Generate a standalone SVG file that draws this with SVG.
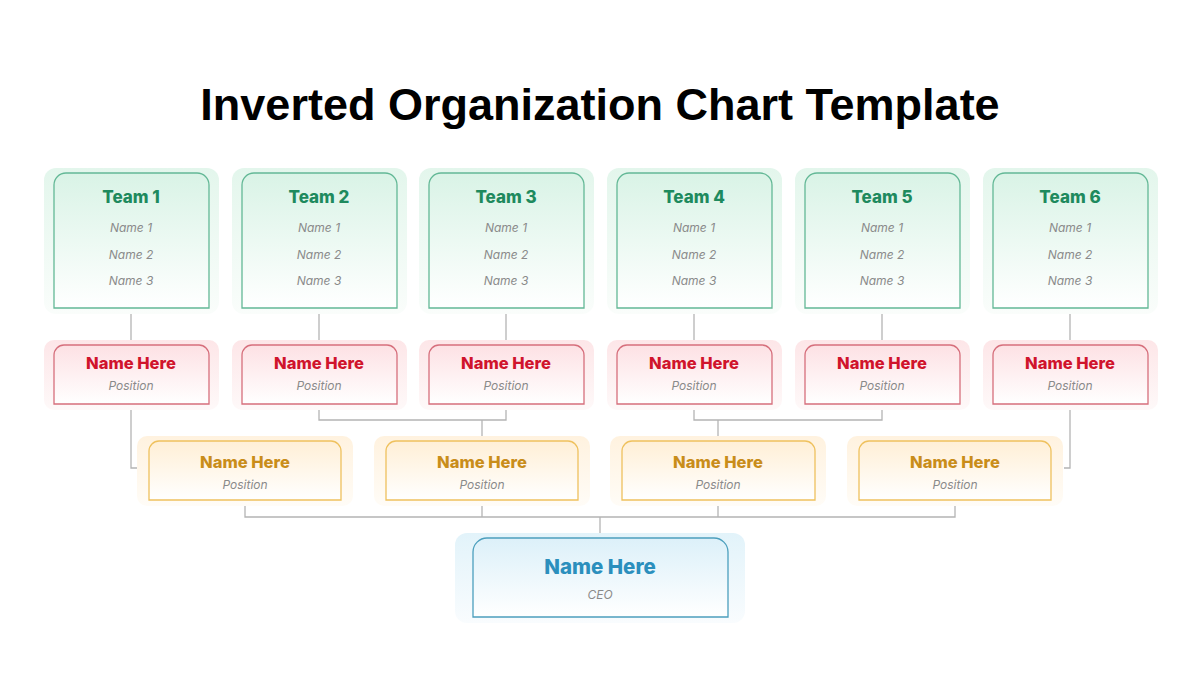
<svg xmlns="http://www.w3.org/2000/svg" width="1200" height="675" viewBox="0 0 1200 675">
<defs>
<linearGradient id="gG" x1="0" y1="0" x2="0" y2="1"><stop offset="0" stop-color="#d9f3e6"/><stop offset="1" stop-color="#ffffff"/></linearGradient>
<linearGradient id="gGh" x1="0" y1="0" x2="0" y2="1"><stop offset="0" stop-color="#e3f6ec"/><stop offset="1" stop-color="#fafdfb"/></linearGradient>
<linearGradient id="gR" x1="0" y1="0" x2="0" y2="1"><stop offset="0" stop-color="#fde1e4"/><stop offset="1" stop-color="#ffffff"/></linearGradient>
<linearGradient id="gRh" x1="0" y1="0" x2="0" y2="1"><stop offset="0" stop-color="#fde6e8"/><stop offset="1" stop-color="#fef9f9"/></linearGradient>
<linearGradient id="gY" x1="0" y1="0" x2="0" y2="1"><stop offset="0" stop-color="#ffefd6"/><stop offset="1" stop-color="#ffffff"/></linearGradient>
<linearGradient id="gYh" x1="0" y1="0" x2="0" y2="1"><stop offset="0" stop-color="#fff2df"/><stop offset="1" stop-color="#fffcf7"/></linearGradient>
<linearGradient id="gB" x1="0" y1="0" x2="0" y2="1"><stop offset="0" stop-color="#dcf0f9"/><stop offset="1" stop-color="#ffffff"/></linearGradient>
<linearGradient id="gBh" x1="0" y1="0" x2="0" y2="1"><stop offset="0" stop-color="#e2f3fa"/><stop offset="1" stop-color="#f9fcfe"/></linearGradient>
</defs>
<style>
.title{font-family:"Liberation Sans",Arial,sans-serif;font-weight:bold;font-size:45px;fill:#000;text-anchor:middle}
.hd{font-family:Inter,"Open Sans",sans-serif;font-weight:800;text-anchor:middle}
.sub{font-family:Inter,"Open Sans",sans-serif;font-style:italic;font-size:12px;fill:#8a8a8a;text-anchor:middle}
.tg{fill:url(#gG);stroke:#63b896;stroke-width:1.3}
.tgh{fill:url(#gGh)}
.rd{fill:url(#gR);stroke:#d66f7c;stroke-width:1.3}
.rdh{fill:url(#gRh)}
.yl{fill:url(#gY);stroke:#efc15e;stroke-width:1.3}
.ylh{fill:url(#gYh)}
.bl{fill:url(#gB);stroke:#4c9fbd;stroke-width:1.3}
.blh{fill:url(#gBh)}
.cn{fill:none;stroke:#b4b4b4;stroke-width:1.3}
.dot{fill:#b0a5aa}
</style>
<rect width="1200" height="675" fill="#ffffff"/>
<text class="title" x="600" y="120">Inverted Organization Chart Template</text>

<g id="connectors">
<path class="cn" d="M131 308V345M319 308V345M506 308V345M694 308V345M882 308V345M1070 308V345"/>
<path class="cn" d="M131 404V468H137"/>
<path class="cn" d="M1070 404V468H1064"/>
<path class="cn" d="M319 404V420H506V404M482 420V441"/>
<path class="cn" d="M694 404V420H882V404M718 420V441"/>
<path class="cn" d="M245 500V517H955V500M482 500V517M718 500V517M600 517V538"/>
<g class="dot">
<circle cx="131" cy="309" r="2.6"/><circle cx="319" cy="309" r="2.6"/><circle cx="506" cy="309" r="2.6"/><circle cx="694" cy="309" r="2.6"/><circle cx="882" cy="309" r="2.6"/><circle cx="1070" cy="309" r="2.6"/>
<circle cx="131" cy="405" r="2.6"/><circle cx="319" cy="405" r="2.6"/><circle cx="506" cy="405" r="2.6"/><circle cx="694" cy="405" r="2.6"/><circle cx="882" cy="405" r="2.6"/><circle cx="1070" cy="405" r="2.6"/>
<circle cx="245" cy="501" r="2.6"/><circle cx="482" cy="501" r="2.6"/><circle cx="718" cy="501" r="2.6"/><circle cx="955" cy="501" r="2.6"/>
</g>
</g>

<g id="team1">
<rect class="tgh" x="44" y="168" width="175" height="146" rx="12"/>
<path class="tg" d="M54 308V185A12 12 0 0 1 66 173H197A12 12 0 0 1 209 185V308Z"/>
<text class="hd" x="131" y="203" font-size="17" fill="#1e8a5e">Team 1</text>
<text class="sub" x="131" y="232">Name 1</text><text class="sub" x="131" y="259">Name 2</text><text class="sub" x="131" y="285">Name 3</text>
</g>
<g id="team2">
<rect class="tgh" x="232" y="168" width="175" height="146" rx="12"/>
<path class="tg" d="M242 308V185A12 12 0 0 1 254 173H385A12 12 0 0 1 397 185V308Z"/>
<text class="hd" x="319" y="203" font-size="17" fill="#1e8a5e">Team 2</text>
<text class="sub" x="319" y="232">Name 1</text><text class="sub" x="319" y="259">Name 2</text><text class="sub" x="319" y="285">Name 3</text>
</g>
<g id="team3">
<rect class="tgh" x="419" y="168" width="175" height="146" rx="12"/>
<path class="tg" d="M429 308V185A12 12 0 0 1 441 173H572A12 12 0 0 1 584 185V308Z"/>
<text class="hd" x="506" y="203" font-size="17" fill="#1e8a5e">Team 3</text>
<text class="sub" x="506" y="232">Name 1</text><text class="sub" x="506" y="259">Name 2</text><text class="sub" x="506" y="285">Name 3</text>
</g>
<g id="team4">
<rect class="tgh" x="607" y="168" width="175" height="146" rx="12"/>
<path class="tg" d="M617 308V185A12 12 0 0 1 629 173H760A12 12 0 0 1 772 185V308Z"/>
<text class="hd" x="694" y="203" font-size="17" fill="#1e8a5e">Team 4</text>
<text class="sub" x="694" y="232">Name 1</text><text class="sub" x="694" y="259">Name 2</text><text class="sub" x="694" y="285">Name 3</text>
</g>
<g id="team5">
<rect class="tgh" x="795" y="168" width="175" height="146" rx="12"/>
<path class="tg" d="M805 308V185A12 12 0 0 1 817 173H948A12 12 0 0 1 960 185V308Z"/>
<text class="hd" x="882" y="203" font-size="17" fill="#1e8a5e">Team 5</text>
<text class="sub" x="882" y="232">Name 1</text><text class="sub" x="882" y="259">Name 2</text><text class="sub" x="882" y="285">Name 3</text>
</g>
<g id="team6">
<rect class="tgh" x="983" y="168" width="175" height="146" rx="12"/>
<path class="tg" d="M993 308V185A12 12 0 0 1 1005 173H1136A12 12 0 0 1 1148 185V308Z"/>
<text class="hd" x="1070" y="203" font-size="17" fill="#1e8a5e">Team 6</text>
<text class="sub" x="1070" y="232">Name 1</text><text class="sub" x="1070" y="259">Name 2</text><text class="sub" x="1070" y="285">Name 3</text>
</g>

<g id="lead1">
<rect class="rdh" x="44" y="340" width="175" height="70" rx="10"/>
<path class="rd" d="M54 404V355A10 10 0 0 1 64 345H199A10 10 0 0 1 209 355V404Z"/>
<text class="hd" x="131" y="369" font-size="16.5" fill="#d0142c">Name Here</text>
<text class="sub" x="131" y="390">Position</text>
</g>
<g id="lead2">
<rect class="rdh" x="232" y="340" width="175" height="70" rx="10"/>
<path class="rd" d="M242 404V355A10 10 0 0 1 252 345H387A10 10 0 0 1 397 355V404Z"/>
<text class="hd" x="319" y="369" font-size="16.5" fill="#d0142c">Name Here</text>
<text class="sub" x="319" y="390">Position</text>
</g>
<g id="lead3">
<rect class="rdh" x="419" y="340" width="175" height="70" rx="10"/>
<path class="rd" d="M429 404V355A10 10 0 0 1 439 345H574A10 10 0 0 1 584 355V404Z"/>
<text class="hd" x="506" y="369" font-size="16.5" fill="#d0142c">Name Here</text>
<text class="sub" x="506" y="390">Position</text>
</g>
<g id="lead4">
<rect class="rdh" x="607" y="340" width="175" height="70" rx="10"/>
<path class="rd" d="M617 404V355A10 10 0 0 1 627 345H762A10 10 0 0 1 772 355V404Z"/>
<text class="hd" x="694" y="369" font-size="16.5" fill="#d0142c">Name Here</text>
<text class="sub" x="694" y="390">Position</text>
</g>
<g id="lead5">
<rect class="rdh" x="795" y="340" width="175" height="70" rx="10"/>
<path class="rd" d="M805 404V355A10 10 0 0 1 815 345H950A10 10 0 0 1 960 355V404Z"/>
<text class="hd" x="882" y="369" font-size="16.5" fill="#d0142c">Name Here</text>
<text class="sub" x="882" y="390">Position</text>
</g>
<g id="lead6">
<rect class="rdh" x="983" y="340" width="175" height="70" rx="10"/>
<path class="rd" d="M993 404V355A10 10 0 0 1 1003 345H1138A10 10 0 0 1 1148 355V404Z"/>
<text class="hd" x="1070" y="369" font-size="16.5" fill="#d0142c">Name Here</text>
<text class="sub" x="1070" y="390">Position</text>
</g>

<g id="manager1">
<rect class="ylh" x="137" y="436" width="216" height="70" rx="10"/>
<path class="yl" d="M149 500V451A10 10 0 0 1 159 441H331A10 10 0 0 1 341 451V500Z"/>
<text class="hd" x="245" y="468" font-size="16.5" fill="#c98d1a">Name Here</text>
<text class="sub" x="245" y="489">Position</text>
</g>
<g id="manager2">
<rect class="ylh" x="374" y="436" width="216" height="70" rx="10"/>
<path class="yl" d="M386 500V451A10 10 0 0 1 396 441H568A10 10 0 0 1 578 451V500Z"/>
<text class="hd" x="482" y="468" font-size="16.5" fill="#c98d1a">Name Here</text>
<text class="sub" x="482" y="489">Position</text>
</g>
<g id="manager3">
<rect class="ylh" x="610" y="436" width="216" height="70" rx="10"/>
<path class="yl" d="M622 500V451A10 10 0 0 1 632 441H805A10 10 0 0 1 815 451V500Z"/>
<text class="hd" x="718" y="468" font-size="16.5" fill="#c98d1a">Name Here</text>
<text class="sub" x="718" y="489">Position</text>
</g>
<g id="manager4">
<rect class="ylh" x="847" y="436" width="216" height="70" rx="10"/>
<path class="yl" d="M859 500V451A10 10 0 0 1 869 441H1041A10 10 0 0 1 1051 451V500Z"/>
<text class="hd" x="955" y="468" font-size="16.5" fill="#c98d1a">Name Here</text>
<text class="sub" x="955" y="489">Position</text>
</g>

<g id="ceo">
<rect class="blh" x="455" y="533" width="290" height="90" rx="12"/>
<path class="bl" d="M473 617V552A14 14 0 0 1 487 538H714A14 14 0 0 1 728 552V617Z"/>
<text class="hd" x="600" y="574" font-size="20.5" fill="#2b8fbd">Name Here</text>
<text class="sub" x="600" y="599" font-size="14">CEO</text>
</g>
</svg>
